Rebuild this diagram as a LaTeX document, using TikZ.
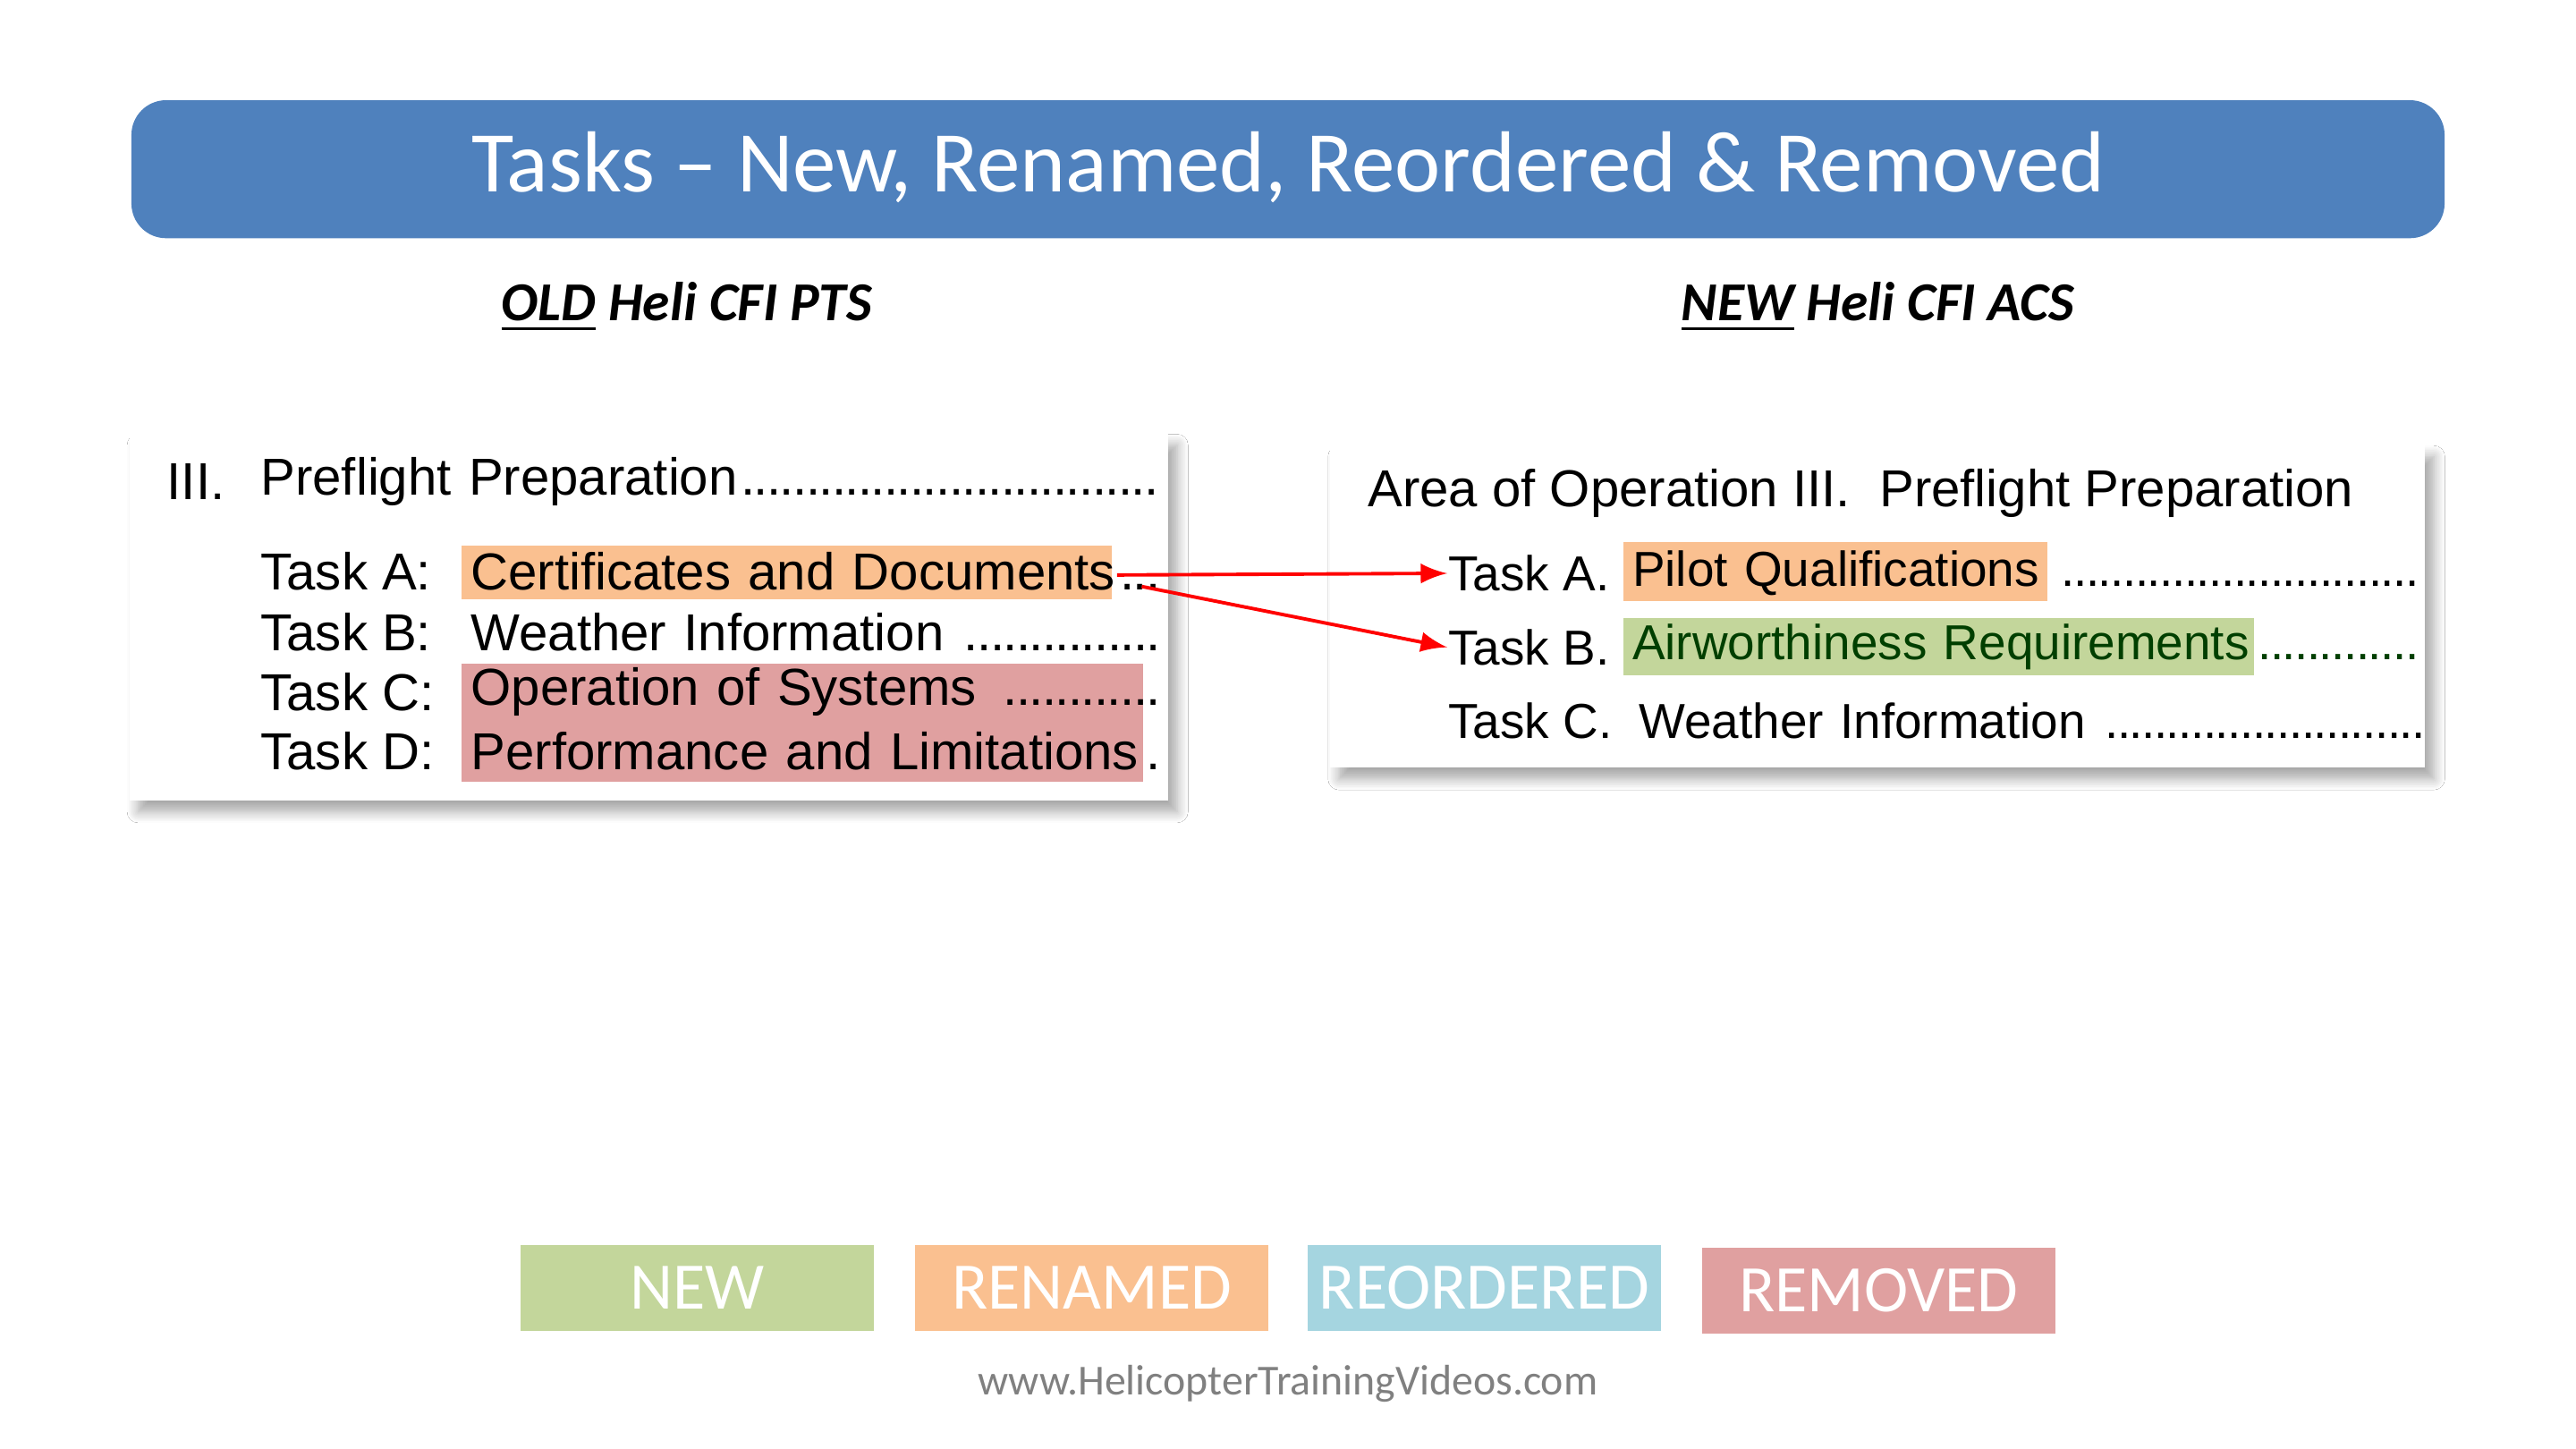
\documentclass[tikz,border=0pt]{standalone}
\usepackage{fontspec}
\setmainfont{Carlito}
\newfontfamily\arialf{Liberation Sans}
\usetikzlibrary{shadows.blur}
\definecolor{tblue}{HTML}{4F81BD}
\definecolor{cnew}{HTML}{C3D69B}
\definecolor{cren}{HTML}{FAC090}
\definecolor{creo}{HTML}{A5D5E0}
\definecolor{crem}{HTML}{E0A0A0}
\newcommand{\mydots}{\leaders\hbox to 0.25em{\hss.\hss}\hfill\mbox{}}
\tikzset{
 doc/.style={fill=white,blur shadow={shadow blur steps=8,shadow xshift=1.5pt,shadow yshift=-2pt,shadow opacity=35}},
 tx/.style={anchor=west,inner sep=0pt,font=\arialf\fontsize{9}{11}\selectfont},
 txs/.style={anchor=west,inner sep=0pt,font=\arialf\fontsize{8.5}{11}\selectfont},
 leg/.style={minimum width=2.15cm,minimum height=0.52cm,inner sep=0pt,text=white,font=\fontsize{11.5}{14}\selectfont},
 arr/.style={red,semithick,-latex},
 sub/.style={font=\bfseries\itshape\fontsize{9.5}{12}\selectfont}
}
\begin{document}
\begin{tikzpicture}[x=0.01cm,y=-0.01cm]
\useasboundingbox (0,0) rectangle (1568,882);
\fill[white] (0,0) rectangle (1568,882);
\fill[tblue,rounded corners=6pt] (80,61) rectangle (1488,145);
\node[text=white,font=\fontsize{15}{18}\selectfont] (title) at (784,102) {Tasks -- New, Renamed, Reordered \& Removed};
\node[sub] (h1) at (418,187) {\underline{OLD} Heli CFI PTS};
\node[sub] (h2) at (1143,187) {\underline{NEW} Heli CFI ACS};
% left doc
\node[doc,minimum width=6.32cm,minimum height=2.23cm,inner sep=0pt] (L) at (395,375.5) {};
\fill[cren] (281,332) rectangle (677,365);
\fill[crem] (281,404) rectangle (696,476);
\node[tx] (l0) at (101,293) {III.};
\node[tx,text width=5.52cm] (l1) at (158,293) {Preflight Preparation\mydots};
\node[tx] (ta) at (158,348) {Task A:};
\node[tx] (tb) at (158,385) {Task B:};
\node[tx] (tc) at (158,421) {Task C:};
\node[tx] (td) at (158,457) {Task D:};
\node[tx,text width=4.24cm] (ca) at (286,348) {Certificates and Documents\mydots};
\node[tx,text width=4.24cm] (cb) at (286,385) {Weather Information \mydots};
\node[tx,text width=4.24cm] (cc) at (286,421) {Operation of Systems \mydots};
\node[tx,text width=4.24cm] (cd) at (286,457) {Performance and Limitations\mydots};
% right doc
\node[doc,minimum width=6.66cm,minimum height=1.96cm,inner sep=0pt] (R) at (1143,369) {};
\fill[cren] (988,330) rectangle (1246,366);
\fill[cnew] (988,376) rectangle (1372,411);
\node[tx] (r0) at (832,300) {Area of Operation III.\ \ Preflight Preparation};
\node[txs] (ra) at (881,349) {Task A.};
\node[txs] (rb) at (881,394) {Task B.};
\node[txs] (rc) at (881,439) {Task C.};
\node[txs,text width=4.82cm] (pa) at (993,349) {Pilot Qualifications \mydots};
\node[txs,text width=4.82cm,text=black!55!green!55!black] (pb) at (993,394) {Airworthiness Requirements\mydots};
\node[txs,text width=4.78cm] (pc) at (997,439) {Weather Information \mydots};
\coordinate (s1) at (680,350);
\coordinate (s2) at (695,357);
\draw[arr] (s1) -- (ra.west);
\draw[arr] (s2) -- (rb.west);
% legend
\node[leg,fill=cnew] (n1) at (424.5,784) {NEW};
\node[leg,fill=cren] (n2) at (664.5,784) {RENAMED};
\node[leg,fill=creo] (n3) at (903.5,784) {REORDERED};
\node[leg,fill=crem] (n4) at (1143.5,785.5) {REMOVED};
\node[text=gray,font=\fontsize{7.4}{9}\selectfont] (foot) at (784,842) {www.HelicopterTrainingVideos.com};
\end{tikzpicture}
\end{document}
